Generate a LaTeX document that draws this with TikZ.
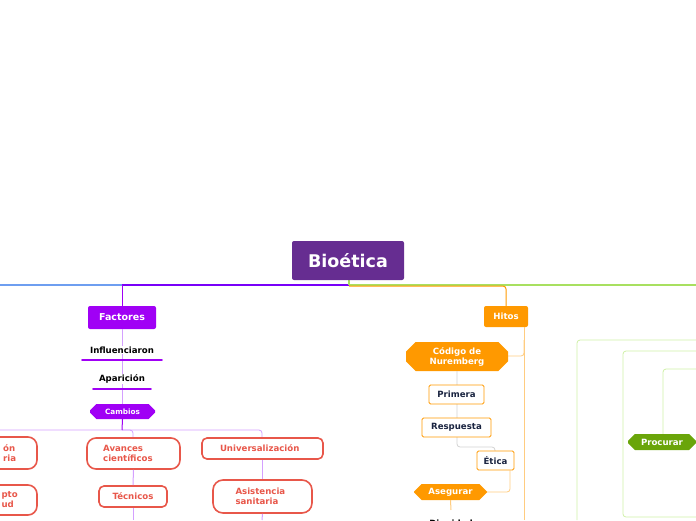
\documentclass[tikz,border=0pt]{standalone}
\usepackage{fontspec}
\setmainfont{DejaVu Sans}
\usetikzlibrary{shapes.misc}
\definecolor{bio}{HTML}{662D91}
\definecolor{vio}{HTML}{A000F5}
\definecolor{lvio}{HTML}{D4A0FF}
\definecolor{blu}{HTML}{6E9EF0}
\definecolor{grn}{HTML}{A8E060}
\definecolor{lgrn}{HTML}{D0F0A8}
\definecolor{org}{HTML}{FF9900}
\definecolor{lorg}{HTML}{FFCC80}
\definecolor{redc}{HTML}{E8574A}
\definecolor{navy}{HTML}{1A2440}
\definecolor{dgrn}{HTML}{6AA50A}
\tikzset{
  base/.style={inner sep=0pt, font=\bfseries, align=center},
  boxr/.style={base, rounded corners=2pt, fill=#1, text=white},
  hexa/.style={base, chamfered rectangle, chamfered rectangle xsep=6pt, fill=#1, text=white},
  redbox/.style={base, draw=redc, line width=1.6pt, rounded corners=9pt, text=redc, fill=white, font=\bfseries\fontsize{8.6}{10}\selectfont, align=left},
  obox/.style={base, draw=org, line width=0.8pt, rounded corners=1.5pt, fill=white, text=navy, font=\bfseries\fontsize{8.6}{10}\selectfont},
  lnk/.style={line width=#1, rounded corners=3pt},
  lnk/.default=0.8pt
}
\begin{document}
\begin{tikzpicture}[x=1pt,y=-1pt]
\useasboundingbox (0,0) rectangle (696,520);
\clip (0,0) rectangle (696,520);
\draw[blu, line width=1.3pt] (0,285) -- (122,285);
\draw[vio!75!blue, line width=1.3pt] (122,285) -- (349,285);
\draw[grn, line width=1.3pt] (349,285) -- (696,285);
\draw[grn, line width=1.3pt] (349,280) -- (349,285);
\draw[vio, lnk=1pt] (122,285) -- (122,306);
\draw[org, lnk=1pt] (349,286) -- (506,286) -- (506,306);
\node[boxr=bio, minimum width=112pt, minimum height=39pt, font=\bfseries\fontsize{17.5}{20}\selectfont] (bio) at (348,260.5) {Bioética};
\node[boxr=vio, minimum width=68pt, minimum height=23pt, font=\bfseries\fontsize{9.5}{11}\selectfont] (fac) at (122,317.5) {Factores};
\draw[lvio, lnk] (fac.south) -- (122,404);
\node[base, font=\bfseries\fontsize{8.6}{10}\selectfont, fill=white, inner sep=1pt] (inf) at (122,350) {Influenciaron};
\draw[vio, line width=1.6pt, line cap=round] (82,360) -- (162,360);
\node[base, font=\bfseries\fontsize{8.6}{10}\selectfont, fill=white, inner sep=1pt] (apa) at (122,379) {Aparición};
\draw[vio, line width=1.6pt, line cap=round] (93,389) -- (151,389);
\node[hexa=vio, minimum width=65pt, minimum height=15pt, chamfered rectangle xsep=5pt, font=\bfseries\fontsize{7.3}{9}\selectfont] (cam) at (122.5,411.5) {Cambios};
\draw[lvio, lnk] (0,430) -- (262,430) -- (262,438);
\draw[lvio, lnk] (122,430) -- (133,430) -- (133,438);
\draw[vio, line width=1pt] (cam.south) -- (122,430);
\node[redbox, minimum width=77pt, minimum height=32pt] (l1) at (-1.5,453) {\phantom{xxxx}ón\\\phantom{xxxx}ria};
\node[redbox, minimum width=77pt, minimum height=30pt] (l2) at (-1.5,500) {\phantom{xxxx}pto\\\phantom{xxxx}ud};
\node[redbox, minimum width=93pt, minimum height=31pt] (ava) at (133.5,453.5) {Avances\\científicos\phantom{xx}};
\node[redbox, minimum width=68pt, minimum height=21pt, rounded corners=5pt] (tec) at (133,496.5) {Técnicos};
\draw[lvio, line width=1pt] (ava.south) -- (tec.north);
\draw[lvio, line width=1pt] (tec.south) -- (133,520);
\node[redbox, minimum width=121pt, minimum height=21pt, rounded corners=5pt] (uni) at (262.5,448.5) {Universalización\phantom{x}};
\node[redbox, minimum width=99pt, minimum height=33pt, rounded corners=10pt] (asi) at (262.5,496.5) {Asistencia\\sanitaria\phantom{xx}};
\draw[lvio, line width=1pt] (uni.south) -- (asi.north);
\draw[lvio, line width=1pt] (asi.south) -- (262,520);
\node[boxr=org, minimum width=44pt, minimum height=21pt, font=\bfseries\fontsize{8.6}{10}\selectfont] (hit) at (506,316.5) {Hitos};
\draw[lorg, lnk] (524,327) -- (524,520);
\draw[lorg, lnk] (524,340) -- (524,356) -- (508,356);
\node[hexa=org, minimum width=102pt, minimum height=29pt, chamfered rectangle xsep=6pt, font=\bfseries\fontsize{8.6}{10}\selectfont] (cod) at (457,356.5) {Código de\\Nuremberg};
\draw[gray!35, lnk] (457,371) -- (457,447) -- (495,447) -- (495,451);
\node[obox, minimum width=55pt, minimum height=19pt] (pri) at (456.5,394.5) {Primera};
\node[obox, minimum width=69pt, minimum height=19pt] (res) at (456.5,427.5) {Respuesta};
\node[obox, minimum width=37pt, minimum height=19pt] (eti) at (495.5,460.5) {Ética};
\draw[lorg, lnk] (510,470) -- (510,492) -- (487,492);
\node[hexa=org, minimum width=73pt, minimum height=16pt, chamfered rectangle xsep=5pt, font=\bfseries\fontsize{8.6}{10}\selectfont] (ase) at (450.5,492) {Asegurar};
\draw[lorg, line width=1pt] (ase.south) -- (451,510);
\node[base, font=\bfseries\fontsize{8.6}{10}\selectfont] (dig) at (451,524) {Dignidad};
\draw[lgrn, lnk] (577,520) -- (577,340) -- (696,340);
\draw[lgrn, lnk] (696,517) -- (623,517) -- (623,351) -- (696,351);
\draw[lgrn, lnk] (663,434) -- (663,369) -- (696,369);
\node[hexa=dgrn, minimum width=68pt, minimum height=16pt, chamfered rectangle xsep=5pt, font=\bfseries\fontsize{8.6}{10}\selectfont] (pro) at (662,442) {Procurar};
\end{tikzpicture}
\end{document}
